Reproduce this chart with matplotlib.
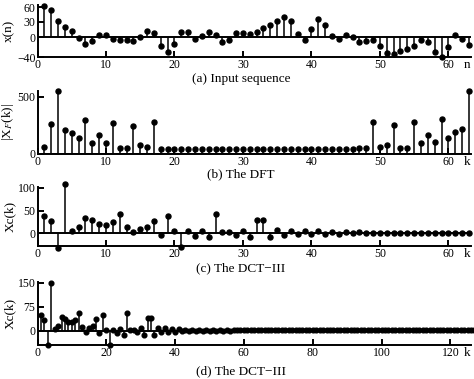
import matplotlib
matplotlib.use("Agg")
import matplotlib.pyplot as plt

plt.rcParams['font.family'] = ['Liberation Serif', 'DejaVu Serif']
plt.rcParams['mathtext.fontset'] = 'stix'

# (a) input sequence x(n), n = 1..63
n_a = list(range(1, 64))
x_n = [63, 55, 32, 20, 13, -1, -13, -8, 5, 5,
       -3, -5, -5, -7, 1, 13, 9, -17, -30, -13,
       10, 10, -3, 3, 11, 4, -10, -5, 9, 9,
       6, 10, 19, 24, 32, 40, 32, 6, -6, 16,
       36, 25, 2, -4, 5, 1, -9, -7, -6, -17,
       -31, -33, -28, -24, -18, -6, -10, -30, -40, -20,
       4, -3, -16]

# (b) DFT magnitude |X(k)|, k = 1..63
k_b = list(range(1, 64))
X_dft = [64, 262, 552, 212, 186, 137, 297, 99, 166, 93,
         273, 49, 49, 247, 78, 61, 282, 45, 44, 43,
         42, 42, 41, 41, 41, 40, 40, 40, 40, 40,
         40, 40, 40, 40, 40, 40, 40, 41, 41, 41,
         42, 42, 43, 44, 45, 47, 50, 52, 276, 61,
         78, 253, 49, 49, 276, 99, 166, 102, 302, 137,
         189, 215, 552]

# (c) DCT-III, N = 64, k = 1..63
k_c = list(range(1, 64))
X_dct64 = [38, 26, -32, 109, 5, 14, 33, 29, 21, 18,
           24, 43, 13, 2, 10, 13, 27, -4, 39, 4,
           -30, 4, -5, 5, -8, 42, 2, 2, -4, 6,
           -8, 29, 29, -8, 7, -4, 6, -2, 4, -2,
           4, -1, 3, -1, 2, 0, 2, 0, 1, 1,
           1, 0, 1, 1, 1, 1, 1, 1, 1, 1,
           1, 1, 1]

# (d) DCT-III, N = 128, k = 1..127
k_d = list(range(1, 128))
X_dct128 = [48, 34, -46, 150, 5, 13, 41, 36, 28, 26,
            32, 56, 12, -3, 9, 15, 36, -7, 48, 2,
            -46, 3, -7, 5, -13, 56, 2, 2, -5, 7,
            -13, 38, 39, -15, 8, -5, 7, -3, 5, -3,
            4, -2, 3, -2, 3, -2, 2, -1, 2, -1,
            2, -1, 2, 0, 2, 0, 1, 1, 1, 1,
            1, 1, 1, 1, 1, 1, 1, 1, 1, 1,
            1, 1, 1, 1, 1, 1, 1, 1, 1, 1,
            1, 1, 1, 1, 1, 1, 1, 1, 1, 1,
            1, 1, 1, 1, 1, 1, 1, 1, 1, 1,
            1, 1, 1, 1, 1, 1, 1, 1, 1, 1,
            1, 1, 1, 1, 1, 1, 1, 1, 1, 1,
            1, 1, 1, 1, 1, 1, 1]

W, H = 474, 379
fig = plt.figure(figsize=(W / 100, H / 100), dpi=100)


def px_axes(top, bottom, left=37.5, right=471):
    return fig.add_axes([left / W, 1 - bottom / H, (right - left) / W, (bottom - top) / H])


def stem_panel(ax, x, y, xlim, ylim, yticks, xticks, ylabel, xname, ms=3.6):
    ax.vlines(x, 0, y, colors='k', linewidth=1.1)
    ax.plot(x, y, 'o', color='k', markersize=ms, clip_on=False, zorder=3)
    ax.axhline(0, color='k', linewidth=1.4)
    ax.set_xlim(*xlim)
    ax.set_ylim(*ylim)
    ax.set_xticks(xticks)
    ax.set_yticks(yticks)
    ax.set_yticklabels([('\u2212%d' % -t) if t < 0 else '%d' % t for t in yticks])
    for s in ['top', 'right']:
        ax.spines[s].set_visible(False)
    for s in ['left', 'bottom']:
        ax.spines[s].set_linewidth(1.4)
    ax.tick_params(direction='in', length=4, width=1.4, labelsize=8.5, pad=1.5)
    ax.set_ylabel(ylabel, fontsize=9.5, labelpad=1)
    ax.text(0.99, -0.035, xname, transform=ax.transAxes, ha='center', va='top', fontsize=9.5)


ax_a = px_axes(4.5, 57)
stem_panel(ax_a, n_a, x_n, (0, 63.3), (-40, 65), [-40, 0, 30, 60],
           range(0, 61, 10), 'x(n)', 'n')

ax_b = px_axes(91, 154)
stem_panel(ax_b, k_b, X_dft, (0, 63.3), (0, 550), [0, 500],
           range(0, 61, 10), '|X$_F$(k)|', 'k')

ax_c = px_axes(187, 246)
stem_panel(ax_c, k_c, X_dct64, (0, 63.3), (-28, 102), [0, 50, 100],
           range(0, 61, 10), 'Xc(k)', 'k')

ax_d = px_axes(282, 345)
stem_panel(ax_d, k_d, X_dct128, (0, 126), (-45, 152), [0, 75, 150],
           range(0, 121, 20), 'Xc(k)', 'k', ms=3.4)

titles = ['(a) Input sequence', '(b) The DFT', '(c) The DCT\u2212III', '(d) The DCT\u2212III']
title_y = [79, 174, 268, 371]
for t, yy in zip(titles, title_y):
    fig.text(241 / W, 1 - yy / H, t, ha='center', va='center', fontsize=9.5)

fig.savefig('out.png', dpi=100)
